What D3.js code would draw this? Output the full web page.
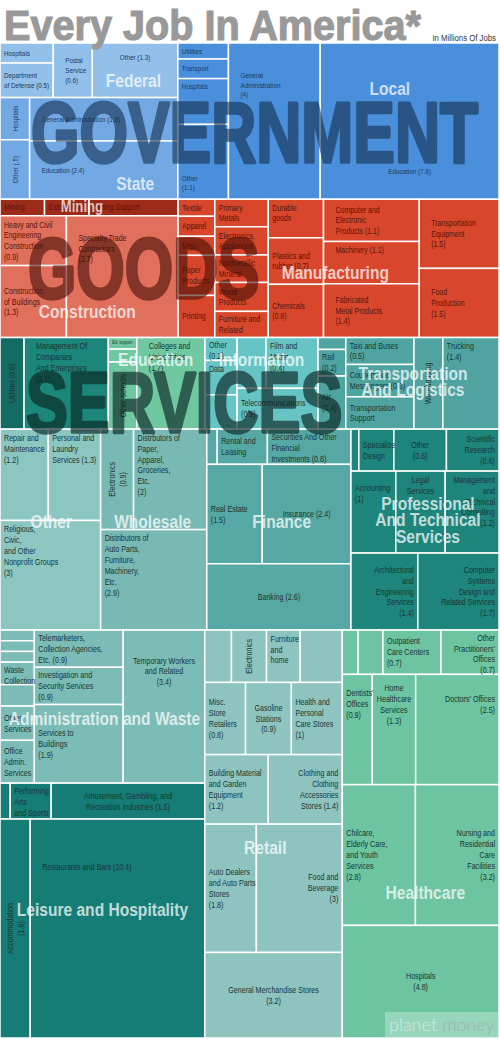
<!DOCTYPE html>
<html>
<head>
<meta charset="utf-8">
<script src="https://cdn.jsdelivr.net/npm/d3@7"></script>
<style>
  body { margin: 0; background: #fff; }
</style>
</head>
<body>
<div id="chart"></div>
<script>
// Jobs in millions. Path = sector / block / ... / cell, label lines split by "|".
// Cells with an empty label are unlabeled slivers in the original.
var govJobs = [
  ["Government/West/Federal/a/Hospitals", "Hospitals", 0.29],
  ["Government/West/Federal/a/Defense", "Department|of Defense (0.5)", 0.5],
  ["Government/West/Federal/Postal", "Postal|Service|(0.6)", 0.58],
  ["Government/West/Federal/Other", "Other (1.3)", 1.27],
  ["Government/West/State/a/Hospitals", "Hospitals", 0.34],
  ["Government/West/State/a/Other", "Other (.5)", 0.48],
  ["Government/West/State/b/Admin", "General Administration (1.8)", 1.75],
  ["Government/West/State/b/Education", "Education (2.4)", 2.35],
  ["Government/Local/a/Utilities", "Utilities", 0.22],
  ["Government/Local/a/Transport", "Transport", 0.27],
  ["Government/Local/a/Hospitals", "Hospitals", 0.63],
  ["Government/Local/a/Other", "Other|(1.1)", 1.03],
  ["Government/Local/Admin", "General|Administration|(4)", 3.9],
  ["Government/Local/Education", "Education (7.8)", 7.6]
];

var goodsJobs = [
  ["Goods/West/Mining/Mining", "Mining", 0.2],
  ["Goods/West/Mining/Extraction", "Extraction", 0.2],
  ["Goods/West/Mining/Support", "Mining Support", 0.4],
  ["Goods/West/Construction/a/Heavy", "Heavy and Civil|Engineering|Construction|(0.9)", 0.9],
  ["Goods/West/Construction/a/Buildings", "Construction|of Buildings|(1.3)", 1.3],
  ["Goods/West/Construction/Specialty", "Specialty Trade|Contractors|(3.7)", 3.7],
  ["Goods/Manufacturing/a/Textile", "Textile", 0.17],
  ["Goods/Manufacturing/a/Apparel", "Apparel", 0.2],
  ["Goods/Manufacturing/a/Misc", "Misc.", 0.19],
  ["Goods/Manufacturing/a/Paper", "Paper|Products", 0.4],
  ["Goods/Manufacturing/a/Printing", "Printing", 0.42],
  ["Goods/Manufacturing/b/Metals", "Primary|Metals", 0.4],
  ["Goods/Manufacturing/b/Electronics", "Electronics,|Appliances", 0.41],
  ["Goods/Manufacturing/b/Mineral", "Nonmetallic|Mineral", 0.4],
  ["Goods/Manufacturing/b/Wood", "Wood|Products", 0.42],
  ["Goods/Manufacturing/b/Furniture", "Furniture and|Related", 0.38],
  ["Goods/Manufacturing/c/Durable", "Durable|goods", 0.58],
  ["Goods/Manufacturing/c/Plastics", "Plastics and|rubber (0.7)", 0.7],
  ["Goods/Manufacturing/c/Chemicals", "Chemicals|(0.8)", 0.8],
  ["Goods/Manufacturing/d/Computer", "Computer and|Electronic|Products  (1.1)", 1.1],
  ["Goods/Manufacturing/d/Machinery", "Machinery (1.1)", 1.1],
  ["Goods/Manufacturing/d/Fabricated", "Fabricated|Metal Products|(1.4)", 1.4],
  ["Goods/Manufacturing/e/Transportation", "Transportation|Equipment|(1.5)", 1.5],
  ["Goods/Manufacturing/e/Food", "Food|Production|(1.5)", 1.5]
];

var serviceJobsTop = [
  ["Services/b1/Utilities", "Utilities (0.6)", 0.6],
  ["Services/b1/Management", "Management Of|Companies|And Enterprises|(2.1)", 2.1],
  ["Services/b1/Education/a/Support", "Ed. support", 0.09],
  ["Services/b1/Education/a/Blank", "", 0.1],
  ["Services/b1/Education/a/Schools", "Other schools", 0.52],
  ["Services/b1/Education/Colleges", "Colleges and|Universities|(1.7)", 1.7],
  ["Services/b1/Information/a/Other", "Other|(0.2)", 0.2],
  ["Services/b1/Information/a/Data", "Data", 0.3],
  ["Services/b1/Information/a/Blank", "", 0.3],
  ["Services/b1/Information/b/top/Blank", "", 0.4],
  ["Services/b1/Information/b/top/Film", "Film and|Music|(0.4)", 0.72],
  ["Services/b1/Information/b/Telecom", "Telecommunications|(0.9)", 0.9],
  ["Services/b1/Transportation/a/Blank", "", 0.09],
  ["Services/b1/Transportation/a/Rail", "Rail|(0.2)", 0.2],
  ["Services/b1/Transportation/a/Air", "Air|(0.4)", 0.4],
  ["Services/b1/Transportation/b/Taxi", "Taxi and Buses|(0.5)", 0.5],
  ["Services/b1/Transportation/b/Couriers", "Couriers and|Messengers (0.6)", 0.6],
  ["Services/b1/Transportation/b/Support", "Transportation|Support", 0.6],
  ["Services/b1/Transportation/Warehousing", "Warehousing", 0.72],
  ["Services/b1/Transportation/Trucking", "Trucking|(1.4)", 1.4]
];

var serviceJobsMiddle = [
  ["Services/b2/Other/a/Repair", "Repair and|Maintenance|(1.2)", 1.2],
  ["Services/b2/Other/a/Personal", "Personal and|Laundry|Services (1.3)", 1.3],
  ["Services/b2/Other/Religious", "Religious,|Civic,|and Other|Nonprofit Groups|(3)", 3.0],
  ["Services/b2/Wholesale/a/Electronics", "Electronics|(0.9)", 0.9],
  ["Services/b2/Wholesale/a/Paper", "Distrbutors of|Paper,|Apparel,|Groceries,|Etc.|(2)", 2.0],
  ["Services/b2/Wholesale/Auto", "Distributors of|Auto Parts,|Furniture,|Machinery,|Etc.|(2.9)", 2.9],
  ["Services/b2/Finance/a/Blank", "", 0.1],
  ["Services/b2/Finance/a/Rental", "Rental and|Leasing", 0.48],
  ["Services/b2/Finance/a/Securities", "Securities And Other|Financial|Investments (0.8)", 0.8],
  ["Services/b2/Finance/b/RealEstate", "Real Estate|(1.5)", 1.5],
  ["Services/b2/Finance/b/Insurance", "Insurance  (2.4)", 2.4],
  ["Services/b2/Finance/Banking", "Banking (2.6)", 2.6],
  ["Services/b2/Professional/a/Blank", "", 0.09],
  ["Services/b2/Professional/a/Design", "Specialize|Design", 0.4],
  ["Services/b2/Professional/a/Other", "Other|(0.6)", 0.6],
  ["Services/b2/Professional/a/Research", "Scientific|Research|(0.6)", 0.6],
  ["Services/b2/Professional/b/Accounting", "Accounting|(1)", 1.0],
  ["Services/b2/Professional/b/Legal", "Legal|Services", 1.1],
  ["Services/b2/Professional/b/Consulting", "Management|and|Technical|Consulting|(1.2)", 1.2],
  ["Services/b2/Professional/c/Architecture", "Architectural|and|Engineering|Services|(1.4)", 1.4],
  ["Services/b2/Professional/c/Computer", "Computer|Systems|Design and|Related Services|(1.7)", 1.7]
];

var serviceJobsBottom = [
  ["Services/b3/West/Admin/a/Blank1", "", 0.1],
  ["Services/b3/West/Admin/a/Blank2", "", 0.1],
  ["Services/b3/West/Admin/a/Blank3", "", 0.1],
  ["Services/b3/West/Admin/a/Waste", "Waste|Collection", 0.21],
  ["Services/b3/West/Admin/a/Blank4", "", 0.2],
  ["Services/b3/West/Admin/a/OtherServices", "Other|Services", 0.32],
  ["Services/b3/West/Admin/a/Office", "Office|Admin.|Services", 0.4],
  ["Services/b3/West/Admin/b/Telemarketers", "Telemarketers,|Collection Agencies,|Etc. (0.9)", 0.9],
  ["Services/b3/West/Admin/b/Security", "Investigation and|Security Services|(0.9)", 0.9],
  ["Services/b3/West/Admin/b/Buildings", "Services to|Buildings|(1.9)", 1.9],
  ["Services/b3/West/Admin/Temporary", "Temporary Workers|and Related|(3.4)", 3.4],
  ["Services/b3/West/Leisure/a/Blank", "", 0.1],
  ["Services/b3/West/Leisure/a/Arts", "Performing|Arts|and Sports", 0.4],
  ["Services/b3/West/Leisure/a/Amusement", "Amusement, Gambling, and|Recreation Industries (1.5)", 1.5],
  ["Services/b3/West/Leisure/b/Accommodation", "Accommodation|(1.8)", 1.8],
  ["Services/b3/West/Leisure/b/Restaurants", "Restaurants and Bars (10.4)", 10.4],
  ["Services/b3/Retail/a/Blank1", "", 0.38],
  ["Services/b3/Retail/a/Electronics", "Electronics", 0.5],
  ["Services/b3/Retail/a/Furniture", "Furniture|and|home", 0.48],
  ["Services/b3/Retail/a/Blank2", "", 0.6],
  ["Services/b3/Retail/b/Misc", "Misc.|Store|Retailers|(0.8)", 0.8],
  ["Services/b3/Retail/b/Gasoline", "Gasoline|Stations|(0.9)", 0.9],
  ["Services/b3/Retail/b/Health", "Health and|Personal|Care Stores|(1)", 1.0],
  ["Services/b3/Retail/c/Building", "Building Material|and Garden|Equipment|(1.2)", 1.2],
  ["Services/b3/Retail/c/Clothing", "Clothing and|Clothing|Accessories|Stores (1.4)", 1.4],
  ["Services/b3/Retail/d/Auto", "Auto Dealers|and Auto Parts|Stores|(1.8)", 1.8],
  ["Services/b3/Retail/d/Food", "Food and|Beverage|(3)", 3.0],
  ["Services/b3/Retail/General", "General Merchandise Stores|(3.2)", 3.2],
  ["Services/b3/Healthcare/a/Blank1", "", 0.19],
  ["Services/b3/Healthcare/a/Blank2", "", 0.3],
  ["Services/b3/Healthcare/a/Outpatient", "Outpatient|Care Centers|(0.7)", 0.7],
  ["Services/b3/Healthcare/a/Practitioners", "Other|Practitioners'|Offices|(0.7)", 0.7],
  ["Services/b3/Healthcare/b/Dentists", "Dentists'|Offices|(0.9)", 0.9],
  ["Services/b3/Healthcare/b/Home", "Home|Healthcare|Services|(1.3)", 1.3],
  ["Services/b3/Healthcare/b/Doctors", "Doctors' Offices|(2.5)", 2.5],
  ["Services/b3/Healthcare/c/Childcare", "Chilcare,|Elderly Care,|and Youth|Services|(2.8)", 2.8],
  ["Services/b3/Healthcare/c/Nursing", "Nursing and|Residential|Care|Facilities|(3.2)", 3.2],
  ["Services/b3/Healthcare/Hospitals", "Hospitals|(4.8)", 4.8]
];

// How each block divides: "h" = children side by side, "v" = children stacked
var splits = [
  ["", "v"],
  ["Government", "h"], ["Government/West", "v"],
  ["Government/West/Federal", "h"], ["Government/West/Federal/a", "v"],
  ["Government/West/State", "h"], ["Government/West/State/a", "v"], ["Government/West/State/b", "v"],
  ["Government/Local", "h"], ["Government/Local/a", "v"],
  ["Goods", "h"], ["Goods/West", "v"], ["Goods/West/Mining", "h"],
  ["Goods/West/Construction", "h"], ["Goods/West/Construction/a", "v"],
  ["Goods/Manufacturing", "h"],
  ["Goods/Manufacturing/a", "v"], ["Goods/Manufacturing/b", "v"], ["Goods/Manufacturing/c", "v"],
  ["Goods/Manufacturing/d", "v"], ["Goods/Manufacturing/e", "v"],
  ["Services", "v"],
  ["Services/b1", "h"],
  ["Services/b1/Education", "h"], ["Services/b1/Education/a", "v"],
  ["Services/b1/Information", "h"], ["Services/b1/Information/a", "v"],
  ["Services/b1/Information/b", "v"], ["Services/b1/Information/b/top", "h"],
  ["Services/b1/Transportation", "h"], ["Services/b1/Transportation/a", "v"], ["Services/b1/Transportation/b", "v"],
  ["Services/b2", "h"],
  ["Services/b2/Other", "v"], ["Services/b2/Other/a", "h"],
  ["Services/b2/Wholesale", "v"], ["Services/b2/Wholesale/a", "h"],
  ["Services/b2/Finance", "v"], ["Services/b2/Finance/a", "h"], ["Services/b2/Finance/b", "h"],
  ["Services/b2/Professional", "v"], ["Services/b2/Professional/a", "h"],
  ["Services/b2/Professional/b", "h"], ["Services/b2/Professional/c", "h"],
  ["Services/b3", "h"], ["Services/b3/West", "v"],
  ["Services/b3/West/Admin", "h"], ["Services/b3/West/Admin/a", "v"], ["Services/b3/West/Admin/b", "v"],
  ["Services/b3/West/Leisure", "v"], ["Services/b3/West/Leisure/a", "h"], ["Services/b3/West/Leisure/b", "h"],
  ["Services/b3/Retail", "v"], ["Services/b3/Retail/a", "h"], ["Services/b3/Retail/b", "h"],
  ["Services/b3/Retail/c", "h"], ["Services/b3/Retail/d", "h"],
  ["Services/b3/Healthcare", "v"], ["Services/b3/Healthcare/a", "h"],
  ["Services/b3/Healthcare/b", "h"], ["Services/b3/Healthcare/c", "h"]
];

var groupNames = [
  ["Government/West/Federal", "Federal"],
  ["Government/West/State", "State"],
  ["Government/Local", "Local"],
  ["Goods/West/Mining", "Mining"],
  ["Goods/West/Construction", "Construction"],
  ["Goods/Manufacturing", "Manufacturing"],
  ["Services/b1/Education", "Education"],
  ["Services/b1/Information", "Information"],
  ["Services/b1/Transportation", "Transportation|And Logistics"],
  ["Services/b2/Other", "Other"],
  ["Services/b2/Wholesale", "Wholesale"],
  ["Services/b2/Finance", "Finance"],
  ["Services/b2/Professional", "Professional|And Technical|Services"],
  ["Services/b3/West/Admin", "Administration and Waste"],
  ["Services/b3/West/Leisure", "Leisure and Hospitality"],
  ["Services/b3/Retail", "Retail"],
  ["Services/b3/Healthcare", "Healthcare"]
];

var sectorWords = [["Government", "GOVERNMENT"], ["Goods", "GOODS"], ["Services", "SERVICES"]];

// ---- styles ----
var palette = {
  "Government/West/Federal": "#92c0ea",
  "Government/West/State": "#72a9e4",
  "Government/Local": "#4a8fdb",
  "Goods/West/Mining": "#9c2b1a",
  "Goods/West/Construction": "#e0705c",
  "Goods/Manufacturing": "#d8472c",
  "Services/b1/Utilities": "#146b63",
  "Services/b1/Management": "#1b8679",
  "Services/b1/Education": "#6fc8a0",
  "Services/b1/Information": "#67c4c4",
  "Services/b1/Transportation": "#4fa4a1",
  "Services/b2/Other": "#8cc6c1",
  "Services/b2/Wholesale": "#78b9b4",
  "Services/b2/Finance": "#56a8a4",
  "Services/b2/Professional": "#1d857c",
  "Services/b3/West/Admin": "#7bbcb7",
  "Services/b3/West/Leisure": "#157d75",
  "Services/b3/Retail": "#8dc4c0",
  "Services/b3/Healthcare": "#6cc4a0"
};
var sectorInk = {Government: "#1b3a60", Goods: "#57140a", Services: "#1a3533"};
var sectorFont = {Government: 7.7, Goods: 8.5, Services: 8.7};
var wordInk = {Government: ["#14304f", 0.6], Goods: ["#4a0f05", 0.6], Services: ["#0a2624", 0.65]};

// label spot in cell: vertical t/w/u/m/b/d + horizontal l/i/c/r, or "rot"; default "ml"
var labelSpot = {
  "Government/West/Federal/Postal": "mi",
  "Government/West/Federal/Other": "uc",
  "Government/West/State/a/Hospitals": "rot",
  "Government/West/State/a/Other": "rot",
  "Government/West/State/b/Admin": "mi",
  "Government/West/State/b/Education": "mi",
  "Government/Local/a/Hospitals": "tl",
  "Government/Local/a/Other": "bl",
  "Government/Local/Admin": "ui",
  "Government/Local/Education": "dc",
  "Goods/West/Construction/Specialty": "ui",
  "Goods/Manufacturing/c/Durable": "tl",
  "Goods/Manufacturing/d/Computer": "mi",
  "Goods/Manufacturing/d/Machinery": "ti",
  "Goods/Manufacturing/d/Fabricated": "mi",
  "Goods/Manufacturing/e/Transportation": "mi",
  "Goods/Manufacturing/e/Food": "mi",
  "Services/b1/Utilities": "rot",
  "Services/b1/Management": "ui",
  "Services/b1/Education/a/Support": "tl",
  "Services/b1/Education/a/Schools": "rot",
  "Services/b1/Education/Colleges": "ti",
  "Services/b1/Information/a/Data": "tl",
  "Services/b1/Information/b/top/Film": "tl",
  "Services/b1/Transportation/Warehousing": "rot",
  "Services/b1/Transportation/Trucking": "tl",
  "Services/b2/Other/a/Repair": "tl",
  "Services/b2/Other/a/Personal": "tl",
  "Services/b2/Other/Religious": "tl",
  "Services/b2/Wholesale/a/Electronics": "rot",
  "Services/b2/Wholesale/a/Paper": "tl",
  "Services/b2/Wholesale/Auto": "tl",
  "Services/b2/Finance/b/Insurance": "mc",
  "Services/b2/Finance/Banking": "mc",
  "Services/b2/Professional/a/Other": "mc",
  "Services/b2/Professional/a/Research": "mr",
  "Services/b2/Professional/b/Accounting": "ul",
  "Services/b2/Professional/b/Legal": "tc",
  "Services/b2/Professional/b/Consulting": "tr",
  "Services/b2/Professional/c/Architecture": "mr",
  "Services/b2/Professional/c/Computer": "mr",
  "Services/b3/West/Admin/Temporary": "uc",
  "Services/b3/West/Leisure/a/Amusement": "mc",
  "Services/b3/West/Leisure/b/Accommodation": "rot",
  "Services/b3/West/Leisure/b/Restaurants": "wi",
  "Services/b3/Retail/a/Electronics": "rot",
  "Services/b3/Retail/a/Furniture": "tl",
  "Services/b3/Retail/b/Gasoline": "mc",
  "Services/b3/Retail/c/Clothing": "mr",
  "Services/b3/Retail/d/Food": "mr",
  "Services/b3/Retail/General": "mc",
  "Services/b3/Healthcare/a/Practitioners": "mr",
  "Services/b3/Healthcare/b/Dentists": "ul",
  "Services/b3/Healthcare/b/Home": "uc",
  "Services/b3/Healthcare/b/Doctors": "ur",
  "Services/b3/Healthcare/c/Nursing": "mr",
  "Services/b3/Healthcare/Hospitals": "mc"
};
var tinyLabels = ["Services/b1/Education/a/Support"];

// group name spot as fractions of its block: [centre x, first baseline]
var tagSpot = {
  "Government/West/Federal": [0.75, 0.8],
  "Government/West/State": [0.76, 0.91],
  "Government/Local": [0.66, 0.33],
  "Goods/West/Mining": [0.46, 0.8],
  "Goods/West/Construction": [0.49, 0.84],
  "Goods/Manufacturing": [0.49, 0.58],
  "Services/b1/Education": [0.49, 0.31],
  "Services/b1/Information": [0.5, 0.31],
  "Services/b1/Transportation": [0.525, 0.46],
  "Services/b2/Other": [0.51, 0.49],
  "Services/b2/Wholesale": [0.49, 0.49],
  "Services/b2/Finance": [0.52, 0.49],
  "Services/b2/Professional": [0.52, 0.4],
  "Services/b3/West/Admin": [0.51, 0.62],
  "Services/b3/West/Leisure": [0.5, 0.52],
  "Services/b3/Retail": [0.44, 0.55],
  "Services/b3/Healthcare": [0.53, 0.66]
};
var tagSize = {"Goods/West/Mining": 16};
// big sector word: [left, right, baseline] as fractions of the sector block
var wordSpot = {Government: [0.062, 0.958, 0.763], Goods: [0.056, 0.52, 0.717], Services: [0.052, 0.686, 0.1355]};

// Liberation Sans squeezed sideways stands in for the condensed face of the original
var FONT = '"Liberation Sans", Arimo, Arial, sans-serif';
var SQUEEZE = 0.82;

var svgWidth = 500;
var svgHeight = 1039;
var margin = {top: 43, left: 0};
var width = 499;
var height = 995;

var svg = d3.select("#chart")
  .append("svg")
  .attr("width", svgWidth)
  .attr("height", svgHeight);

svg.append("rect").attr("width", svgWidth).attr("height", svgHeight).attr("fill", "#fff");

// nest the flat rows into a tree, keeping their order
function buildTree(rows) {
  var root = {name: "", path: "", children: []};
  var index = new Map([["", root]]);
  rows.forEach(function(row) {
    var parts = row[0].split("/");
    var parent = root;
    parts.forEach(function(part, i) {
      var p = parts.slice(0, i + 1).join("/");
      var node = index.get(p);
      if (!node) {
        node = {name: part, path: p};
        if (i < parts.length - 1) node.children = [];
        index.set(p, node);
        parent.children.push(node);
      }
      parent = node;
    });
    parent.label = row[1];
    parent.jobs = row[2];
  });
  return root;
}

var rows = govJobs.concat(goodsJobs, serviceJobsTop, serviceJobsMiddle, serviceJobsBottom);
var root = d3.hierarchy(buildTree(rows)).sum(function(d) { return d.jobs || 0; });
var dirOf = new Map(splits);

d3.treemap()
  .size([width, height])
  .tile(function(node, x0, y0, x1, y1) {
    var tile = dirOf.get(node.data.path) === "h" ? d3.treemapDice : d3.treemapSlice;
    tile(node, x0, y0, x1, y1);
  })(root);

var byPath = new Map(root.descendants().map(function(d) { return [d.data.path, d]; }));

var chartGroup = svg.append("g")
  .attr("transform", `translate(${margin.left}, ${margin.top})`);

function sectorOf(d) { return d.ancestors().find(function(a) { return a.depth === 1; }).data.name; }
function colorOf(d) {
  var a = d.ancestors().find(function(a) { return palette[a.data.path]; });
  return a ? palette[a.data.path] : "#ccc";
}

var leaves = root.leaves();

chartGroup.selectAll("rect.cell")
  .data(leaves)
  .enter()
  .append("rect")
  .attr("class", "cell")
  .attr("x", d => d.x0)
  .attr("y", d => d.y0)
  .attr("width", d => d.x1 - d.x0)
  .attr("height", d => d.y1 - d.y0)
  .attr("fill", colorOf)
  .attr("stroke", "#fff")
  .attr("stroke-width", 1.5);

// cell labels
var labelLayer = chartGroup.append("g").attr("font-family", FONT);

leaves.forEach(function(d) {
  if (!d.data.label) return;
  var sector = sectorOf(d);
  var lines = d.data.label.split("|");
  var size = tinyLabels.indexOf(d.data.path) >= 0 ? 4.8 : sectorFont[sector];
  var lh = size * 1.25;
  var code = labelSpot[d.data.path] || "ml";
  var t = labelLayer.append("text")
    .attr("font-size", size)
    .attr("fill", sectorInk[sector]);

  if (code === "rot") {
    var cx = (d.x0 + d.x1) / 2, cy = (d.y0 + d.y1) / 2;
    t.attr("transform", `translate(${cx}, ${cy}) rotate(-90) scale(${SQUEEZE}, 1)`)
      .attr("text-anchor", "middle");
    lines.forEach(function(line, i) {
      t.append("tspan").attr("x", 0)
        .attr("y", (i - (lines.length - 1) / 2) * lh + size * 0.35)
        .text(line);
    });
    return;
  }

  var v = code[0], hz = code[1];
  var h = d.y1 - d.y0;
  var block = (lines.length - 1) * lh;
  var first;
  if (v === "t") {
    first = d.y0 + size + 3;
  } else {
    var f = {w: 0.22, u: 0.27, m: 0.5, b: 0.78, d: 0.82}[v];
    first = Math.max(d.y0 + f * h - block / 2 + size * 0.35, d.y0 + size + 2);
  }
  if (size < 6) first = d.y0 + size + 2;

  var x, anchor;
  if (hz === "c") { x = (d.x0 + d.x1) / 2; anchor = "middle"; }
  else if (hz === "r") { x = d.x1 - 4; anchor = "end"; }
  else { x = d.x0 + (hz === "i" ? 12 : 4); anchor = "start"; }

  t.attr("transform", `translate(${x}, ${first}) scale(${SQUEEZE}, 1)`)
    .attr("text-anchor", anchor);
  lines.forEach(function(line, i) {
    t.append("tspan").attr("x", 0).attr("y", i * lh).text(line);
  });
});

// big sector words laid over the cells; the group carries the see-through
// so the thickening stroke does not double up with the fill
sectorWords.forEach(function(w) {
  var d = byPath.get(w[0]);
  var spot = wordSpot[w[0]];
  var bw = d.x1 - d.x0, bh = d.y1 - d.y0;
  chartGroup.append("g")
    .attr("opacity", wordInk[w[0]][1])
    .append("text")
    .attr("x", d.x0 + spot[0] * bw)
    .attr("y", d.y0 + spot[2] * bh)
    .attr("textLength", (spot[1] - spot[0]) * bw)
    .attr("lengthAdjust", "spacingAndGlyphs")
    .attr("font-family", FONT)
    .attr("font-weight", "bold")
    .attr("font-size", 86)
    .attr("fill", wordInk[w[0]][0])
    .attr("stroke", wordInk[w[0]][0])
    .attr("stroke-width", 3.5)
    .attr("stroke-linejoin", "round")
    .text(w[1]);
});

// group names
groupNames.forEach(function(g) {
  var d = byPath.get(g[0]);
  var spot = tagSpot[g[0]];
  var size = tagSize[g[0]] || 19;
  var lines = g[1].split("|");
  var x = d.x0 + spot[0] * (d.x1 - d.x0);
  var y = d.y0 + spot[1] * (d.y1 - d.y0);
  var t = chartGroup.append("text")
    .attr("transform", `translate(${x}, ${y}) scale(${SQUEEZE}, 1)`)
    .attr("text-anchor", "middle")
    .attr("font-family", FONT)
    .attr("font-weight", "bold")
    .attr("font-size", size)
    .attr("fill", "#fff")
    .attr("fill-opacity", 0.74);
  lines.forEach(function(line, i) {
    t.append("tspan").attr("x", 0).attr("y", i * 16.5).text(line);
  });
});

// title
svg.append("text")
  .attr("x", 4)
  .attr("y", 40)
  .attr("textLength", 417)
  .attr("lengthAdjust", "spacingAndGlyphs")
  .attr("font-family", FONT)
  .attr("font-weight", "bold")
  .attr("font-size", 43)
  .attr("fill", "#999")
  .attr("stroke", "#999")
  .attr("stroke-width", 1.2)
  .text("Every Job In America*");

svg.append("text")
  .attr("transform", `translate(496, 41) scale(${SQUEEZE}, 1)`)
  .attr("text-anchor", "end")
  .attr("font-family", FONT)
  .attr("font-size", 9.5)
  .attr("fill", "#333")
  .text("In Millions Of Jobs");

// planet money badge in the bottom corner
var badge = chartGroup.append("g")
  .attr("transform", `translate(${width - 114}, ${height - 26})`);
badge.append("rect")
  .attr("width", 113)
  .attr("height", 25)
  .attr("fill", "#fff")
  .attr("fill-opacity", 0.3);
var logo = badge.append("text")
  .attr("x", 4)
  .attr("y", 19)
  .attr("font-family", "Lato, 'Open Sans', sans-serif")
  .attr("font-weight", 300)
  .attr("font-size", 18);
logo.append("tspan").attr("fill", "#d6e7e0").text("planet");
logo.append("tspan").attr("fill", "#9fb1ab").text(" money");
</script>
</body>
</html>
